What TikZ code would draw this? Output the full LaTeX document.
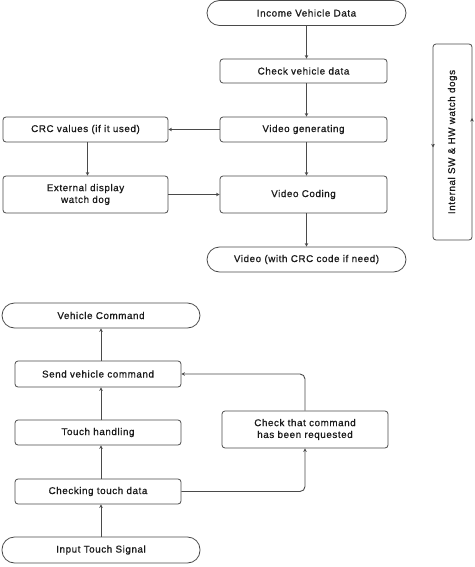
\documentclass[tikz,border=0pt]{standalone}
\usepackage{fontspec}
\setmainfont{Liberation Sans}[LetterSpace=6, FakeBold=0.9]
\usetikzlibrary{arrows.meta}
\definecolor{linec}{HTML}{4A4A4A}
\definecolor{txt}{HTML}{1A1A1A}
\tikzset{
  box/.style={draw=linec, line width=0.8pt, rounded corners=3pt, text=txt,
    font=\fontsize{9.8}{11.8}\selectfont, align=center, inner sep=0pt},
  pill/.style={box, rounded corners=12.5pt},
  arr/.style={draw=linec, line width=0.9pt, -{Stealth[length=3.5pt,width=3.5pt]}},
  link/.style={draw=linec, line width=0.9pt}
}
\begin{document}
\begin{tikzpicture}[x=1pt,y=-1pt]
\useasboundingbox (0,0) rectangle (474,567);
% upper part
\node[pill, minimum width=199pt, minimum height=25pt] (inc) at (306.5,13) {Income Vehicle Data};
\node[box, minimum width=167pt, minimum height=24pt] (chk) at (303.5,71) {Check vehicle data};
\node[box, minimum width=167pt, minimum height=25pt] (vg) at (303.5,129.5) {Video generating};
\node[box, minimum width=165pt, minimum height=25pt] (crc) at (85.5,129.5) {CRC values (if it used)};
\node[box, minimum width=165pt, minimum height=37pt] (ext) at (85.5,194.5) {External display\\watch dog};
\node[box, minimum width=167pt, minimum height=37pt] (vc) at (303.5,194.5) {Video Coding};
\node[pill, minimum width=199pt, minimum height=25pt] (vout) at (306.5,259.5) {Video (with CRC code if need)};
\node[box, minimum width=39pt, minimum height=196pt] (int) at (452.5,142) {};
\node[text=txt, font=\fontsize{9.8}{11.8}\selectfont, rotate=90] (intl) at (int.center) {Internal SW \& HW watch dogs};

\draw[arr] (inc.south) -- (inc.south |- chk.north);
\draw[arr] (inc.south |- chk.south) -- (inc.south |- vg.north);
\draw[arr] (vg.west) -- (crc.east);
\draw[arr] ([xshift=2pt]crc.south) -- ([xshift=2pt]ext.north);
\draw[arr] (ext.east) -- (vc.west);
\draw[arr] (inc.south |- vg.south) -- (inc.south |- vc.north);
\draw[arr] (inc.south |- vc.south) -- (vout.north);

% tiny marks on the watch dog box
\coordinate (m1a) at (472,121);
\coordinate (m1b) at (472,118);
\coordinate (m2a) at (433,144);
\coordinate (m2b) at (433,147.5);
\draw[arr] (m1a) -- (m1b);
\draw[arr] (m2a) -- (m2b);

% lower part
\node[pill, minimum width=198pt, minimum height=25pt] (vcmd) at (101,315.5) {Vehicle Command};
\node[box, minimum width=166pt, minimum height=26pt] (svc) at (98,374) {Send vehicle command};
\node[box, minimum width=166pt, minimum height=25pt] (th) at (98,432.5) {Touch handling};
\node[box, minimum width=166pt, minimum height=37pt] (ctc) at (305,429.5) {Check that command\\has been requested};
\node[box, minimum width=166pt, minimum height=25pt] (ctd) at (98,491.5) {Checking touch data};
\node[pill, minimum width=198pt, minimum height=26pt] (its) at (101,550) {Input Touch Signal};

\draw[arr] (its.north) -- (its.north |- ctd.south);
\draw[arr] (its.north |- ctd.north) -- (its.north |- th.south);
\draw[arr] (its.north |- th.north) -- (its.north |- svc.south);
\draw[arr] (its.north |- svc.north) -- (vcmd.south);
\draw[arr, rounded corners=5pt] (ctd.east) -| (ctc.south);
\draw[arr, rounded corners=5pt] (ctc.north) |- (svc.east);
\end{tikzpicture}
\end{document}
